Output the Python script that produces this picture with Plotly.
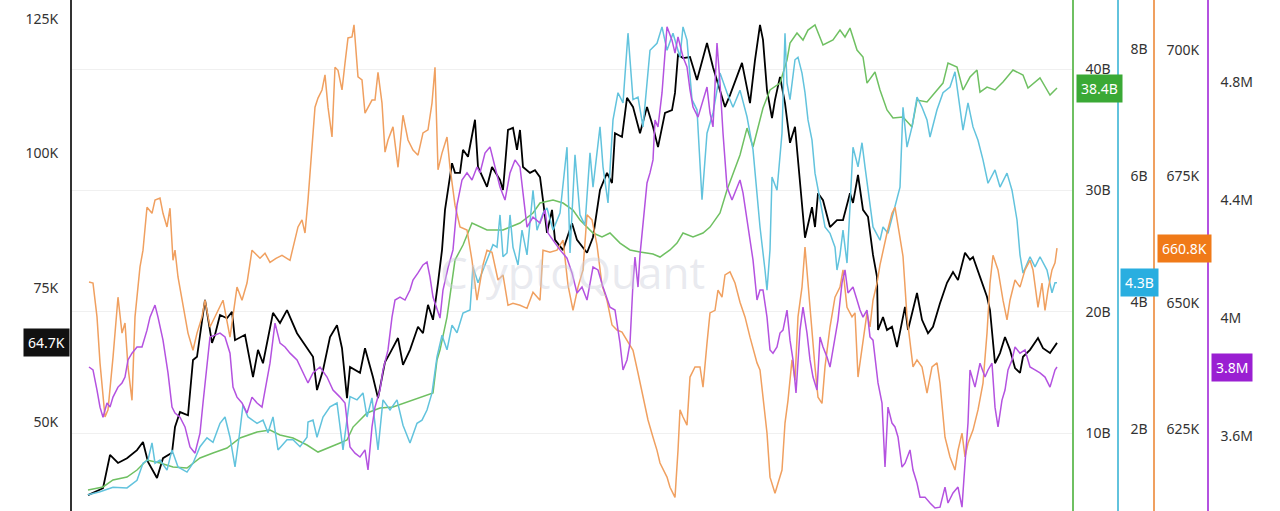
import plotly.graph_objects as go
import numpy as np

# ---------------- data (day offsets, values) ----------------
btc_day = [0,15,22,30,39,49,55,60,69,75,
           84,87,92,100,105,109,117,124,127,132,
           139,144,147,157,165,170,175,185,192,199,
           209,219,225,229,235,242,249,254,259,262,
           272,277,285,290,297,302,310,315,322,330,
           335,340,345,350,354,357,364,367,372,375,
           380,387,390,399,404,412,415,420,425,429,
           432,435,442,447,452,455,459,464,467,475,
           484,489,494,499,505,512,519,524,527,534,
           539,545,552,559,565,570,577,584,587,590,
           595,602,609,619,625,632,637,642,654,662,
           667,672,675,679,684,687,692,697,702,707,
           712,717,724,727,730,735,742,749,755,762,
           765,770,775,780,785,789,790,795,799,804,
           809,812,817,820,825,829,834,840,845,852,
           859,865,870,877,882,885,892,899,902,907,
           912,917,922,927,932,935,942,950,955,962,
           969]
btc_price_k = [36.3,37.6,43.8,42.3,43.2,44.7,46.2,42.5,39.5,43.2,
               44.2,49.0,51.8,51.2,61.5,62.1,72.7,64.7,66.2,69.9,
               69.3,70.5,65.2,66.2,58.3,63.4,60.9,70.3,68.4,70.8,
               66.5,63.9,62.1,55.9,59.6,65.8,68.0,63.7,54.4,60.2,
               59.1,63.7,58.3,54.4,61.1,62.8,65.6,60.6,63.4,67.7,
               66.5,71.8,69.0,75.9,82.0,89.5,98.2,96.4,96.4,100.7,
               99.4,106.3,97.5,93.8,97.5,95.1,93.2,104.4,104.8,100.7,
               104.4,97.5,96.4,96.9,95.6,91.3,85.2,89.5,83.9,82.0,
               87.0,83.9,82.6,81.5,84.4,93.2,96.4,94.5,103.8,103.1,
               110.4,108.7,103.8,108.7,105.0,101.2,107.6,108.1,111.3,118.4,
               117.8,118.0,113.7,120.6,116.1,111.8,108.7,110.9,116.9,109.4,
               117.4,124.0,121.2,111.8,106.6,110.0,114.3,109.4,102.0,105.0,
               95.1,84.3,90.0,86.3,92.6,91.3,86.3,87.6,87.6,92.6,
               90.8,96.0,89.5,88.2,81.1,77.0,67.1,69.5,67.1,67.7,
               63.9,66.5,71.4,67.1,71.2,74.0,69.0,66.5,67.7,72.1,
               75.9,77.9,76.4,81.5,80.2,80.7,77.0,73.3,70.8,60.9,
               62.8,65.8,63.4,60.0,59.1,62.1,63.4,65.6,63.7,62.8,
               64.7]

green_day = [0,15,25,39,49,59,72,85,99,112,
             125,139,152,169,182,192,205,219,230,239,
             252,259,265,279,292,305,319,332,345,349,
             352,359,367,375,384,399,415,432,445,452,
             465,475,485,492,499,505,514,522,532,542,
             552,565,572,582,589,595,605,615,622,632,
             639,645,652,659,665,675,682,692,699,702,
             709,715,720,727,735,745,752,757,762,769,
             775,779,787,792,799,805,815,824,829,839,
             849,855,860,869,875,882,889,892,899,907,
             915,925,935,940,952,959,962,969]
green_b = [5.30,5.55,6.13,6.37,6.95,7.77,7.53,7.20,7.11,7.94,
           8.35,8.76,9.59,10.08,10.25,9.84,9.59,9.01,8.43,8.76,
           9.18,9.42,10.49,11.65,12.06,12.14,12.56,12.97,13.30,16.02,
           16.84,19.56,24.26,25.50,27.31,26.74,26.74,27.31,28.14,28.96,
           29.21,28.96,28.38,27.56,26.98,26.49,26.16,26.49,25.66,25.09,
           24.92,24.76,24.51,25.09,25.66,26.49,26.16,26.49,26.98,28.14,
           30.03,31.43,32.92,35.14,33.58,36.79,38.28,38.85,40.75,42.15,
           42.98,42.40,43.22,43.64,41.99,42.40,43.22,42.65,43.39,41.57,
           41.00,38.85,39.76,38.28,36.63,35.97,36.05,35.23,37.45,37.29,
           38.28,38.85,40.50,40.17,38.28,39.35,39.93,38.11,38.52,38.28,
           38.94,39.93,39.51,38.44,39.27,38.28,37.86,38.44]

cyan_day = [0,12,25,39,49,55,60,64,67,72,
            79,84,90,99,105,112,119,125,132,137,
            142,147,152,155,160,169,175,180,185,190,
            199,205,212,219,220,225,229,235,242,249,
            255,262,269,275,279,284,290,295,302,309,
            315,322,329,334,339,344,349,354,359,364,
            369,375,382,385,390,395,399,405,409,412,
            415,419,422,425,430,434,439,445,449,455,
            459,465,472,479,482,487,492,497,502,505,
            512,515,520,525,530,535,540,545,550,555,
            562,569,574,579,585,592,595,599,604,609,
            614,619,625,632,639,645,652,659,665,672,
            677,679,682,684,689,694,697,699,702,707,
            710,714,717,720,724,727,732,737,742,747,
            749,752,755,759,762,765,770,774,777,782,
            785,792,795,800,805,809,812,815,819,824,
            829,834,839,842,849,855,862,867,872,875,
            880,885,890,895,900,907,912,919,924,929,
            932,935,942,947,952,959,964,967,969]
cyan_b = [0.96,1.01,1.08,1.07,1.19,1.46,1.51,1.78,1.46,1.51,
          1.35,1.67,1.40,1.32,1.46,1.72,1.86,1.79,2.09,2.19,
          1.87,1.40,1.98,2.38,2.19,2.09,2.14,1.94,2.19,1.67,
          1.83,1.83,1.72,1.87,2.11,2.14,1.87,2.19,2.35,2.41,
          1.67,2.51,2.46,2.57,2.19,2.49,1.67,2.46,2.30,2.46,
          2.06,1.78,2.09,2.14,2.30,2.57,3.14,3.48,3.25,3.64,
          3.52,3.83,3.88,4.56,4.31,4.51,4.64,4.91,4.87,5.38,
          4.72,4.78,5.38,4.87,4.59,5.14,4.75,5.77,5.14,5.41,
          5.49,5.14,5.41,6.45,4.78,6.33,5.38,5.22,6.36,5.82,
          6.77,6.14,5.57,6.88,7.31,7.15,8.25,7.20,7.24,6.77,
          7.98,8.09,8.35,7.98,8.25,7.87,8.35,8.14,7.20,7.04,
          5.62,6.67,6.99,7.62,7.31,7.08,7.35,6.93,6.41,5.19,
          4.51,4.19,4.83,5.98,5.77,6.67,8.25,7.46,7.20,7.83,
          7.87,7.62,7.31,6.88,6.56,6.04,5.62,5.19,5.09,4.87,
          4.51,4.75,5.14,4.62,5.51,6.45,6.14,6.52,6.14,5.51,
          5.19,4.98,5.19,5.09,5.41,5.62,5.82,7.08,6.45,6.77,
          7.24,7.08,6.88,6.61,7.04,7.31,7.40,7.64,7.04,6.72,
          7.15,6.77,6.56,6.25,5.88,6.09,5.82,6.04,5.77,5.30,
          4.75,4.46,4.72,4.56,4.72,4.51,4.15,4.31,4.31]

orange_day = [1,5,9,12,17,20,25,30,34,37,
              40,44,47,52,55,59,64,67,72,75,
              79,82,85,87,90,95,100,105,109,114,
              117,122,129,135,142,149,154,159,164,172,
              177,182,188,194,202,205,210,214,217,220,
              224,227,230,234,237,240,244,247,250,254,
              257,260,264,266,270,274,277,280,284,287,
              290,294,297,300,305,310,315,320,325,330,
              335,340,344,347,350,354,359,362,367,372,
              379,384,389,395,399,404,410,415,420,425,
              432,439,445,452,455,462,469,475,480,485,
              490,495,499,504,509,514,519,524,529,534,
              539,545,550,555,560,565,569,572,579,582,
              587,590,592,595,599,602,607,612,615,619,
              622,627,630,634,637,642,647,652,657,662,
              669,672,675,679,682,687,690,694,697,700,
              704,707,710,714,717,720,724,727,730,734,
              737,742,747,752,755,759,764,767,770,775,
              779,782,785,789,792,799,804,807,810,815,
              819,822,825,829,834,839,844,849,852,857,
              862,867,870,874,877,880,885,890,895,899,
              902,905,910,915,919,922,927,932,937,942,
              945,950,954,957,960,964,967,969]
orange_k = [654.1,653.9,647.2,638.1,627.4,628.8,639.2,651.1,644.0,646.0,
            637.3,630.7,647.2,657.1,660.4,668.9,667.7,670.3,670.7,667.7,
            665.0,668.7,658.4,660.4,655.1,649.1,644.0,640.6,644.0,647.2,
            650.5,645.2,648.0,650.5,643.2,653.1,650.5,653.9,660.4,658.8,
            659.8,658.0,658.8,659.4,658.4,660.8,665.0,666.4,663.8,670.3,
            681.6,688.7,690.5,692.1,695.1,688.7,682.8,696.6,696.0,692.1,
            697.4,702.4,702.6,705.0,694.7,694.1,687.5,688.7,690.1,690.1,
            695.6,689.5,679.8,682.2,684.8,676.8,687.1,682.2,680.2,679.2,
            683.6,684.2,689.5,696.6,676.3,679.6,682.8,676.8,669.3,665.0,
            664.4,658.4,650.5,657.5,660.4,660.0,654.5,655.5,649.5,649.9,
            649.5,648.9,652.1,650.5,660.4,660.0,660.4,662.4,653.5,648.5,
            653.1,656.5,667.4,666.4,661.4,653.5,650.5,645.6,644.6,644.2,
            642.6,640.6,636.1,631.3,626.8,623.4,620.8,618.3,615.5,613.5,
            611.5,620.8,628.8,627.4,625.8,635.3,637.3,637.3,633.3,642.0,
            648.0,648.5,652.5,651.1,655.5,656.1,653.9,650.1,647.2,643.2,
            638.1,636.7,630.7,624.2,615.5,612.3,614.3,616.9,626.2,630.7,
            638.7,634.7,647.2,653.1,661.0,653.9,643.2,637.3,631.3,630.1,
            637.3,645.2,651.1,653.1,656.5,649.1,647.2,648.0,635.3,642.6,
            648.0,645.2,650.5,653.9,657.5,663.8,667.7,668.9,665.0,659.2,
            647.2,642.0,637.3,638.7,637.3,632.1,637.3,638.1,634.1,623.4,
            619.5,616.9,620.8,624.2,619.5,622.2,624.8,628.8,634.1,644.0,
            653.9,659.4,656.5,650.5,646.6,650.5,654.5,653.1,656.5,658.4,
            656.5,649.1,653.9,648.5,652.5,656.5,657.9,660.8]

purple_day = [1,5,9,12,15,19,22,25,30,34,
              37,40,44,49,54,59,62,67,70,75,
              80,84,87,92,97,102,107,112,115,119,
              122,127,132,137,142,145,149,154,159,164,
              169,174,177,182,187,192,197,202,209,215,
              220,225,232,239,245,252,257,262,267,272,
              277,280,284,287,292,295,300,304,307,312,
              317,322,325,330,335,339,342,345,349,352,
              355,360,365,369,374,379,384,389,392,397,
              402,407,412,417,422,427,432,435,439,445,
              452,457,460,465,472,479,484,489,494,499,
              505,510,515,522,527,532,535,539,542,545,
              547,550,552,559,562,565,567,570,574,579,
              584,587,590,595,599,602,605,610,615,619,
              622,625,629,632,635,639,644,649,652,655,
              660,665,669,672,675,679,682,685,689,692,
              695,699,702,705,708,712,715,719,722,725,
              729,732,735,739,742,745,750,754,757,760,
              765,769,772,775,779,782,785,790,794,797,
              800,804,807,810,814,817,822,825,829,832,
              837,842,847,852,857,860,865,870,874,877,
              880,882,887,892,897,900,904,907,910,914,
              917,920,924,927,932,937,942,947,952,957,
              962,967,969]
purple_m = [3.834,3.824,3.756,3.698,3.664,3.712,3.698,3.732,3.766,3.780,
            3.800,3.858,3.881,3.902,3.902,3.959,4.003,4.044,4.003,3.925,
            3.814,3.698,3.678,3.664,3.631,3.563,3.542,3.610,3.712,3.847,
            3.936,3.942,3.949,3.936,3.881,3.766,3.732,3.712,3.678,3.732,
            3.712,3.698,3.756,3.847,3.983,3.915,3.902,3.881,3.858,3.814,
            3.780,3.814,3.834,3.800,3.756,3.732,3.712,3.563,3.542,3.529,
            3.553,3.485,3.631,3.698,3.756,3.824,3.892,4.003,4.061,4.071,
            4.061,4.095,4.129,4.153,4.180,4.190,4.139,4.071,4.027,4.000,
            4.095,4.170,4.231,4.383,4.468,4.492,4.468,4.512,4.492,4.559,
            4.580,4.512,4.444,4.400,4.492,4.536,4.512,4.424,4.308,4.342,
            4.322,4.366,4.288,4.264,4.231,4.203,4.153,4.085,4.105,4.061,
            4.173,4.163,4.105,4.037,4.027,3.915,3.824,3.858,3.915,4.119,
            4.207,4.105,4.214,4.458,4.492,4.536,4.671,4.648,4.763,4.987,
            4.942,4.898,4.953,4.885,4.851,4.773,4.715,4.681,4.739,4.783,
            4.695,4.648,4.932,4.797,4.627,4.444,4.400,4.444,4.468,4.424,
            4.308,4.197,4.061,4.095,4.095,4.003,3.892,3.881,3.902,3.949,
            3.959,4.027,3.925,3.858,3.746,3.959,4.037,3.949,3.858,3.800,
            3.756,3.936,3.902,3.868,3.834,3.892,3.993,4.119,4.163,4.085,
            4.105,4.061,4.027,4.003,4.027,3.936,3.925,3.780,3.712,3.495,
            3.698,3.644,3.631,3.597,3.495,3.508,3.553,3.485,3.441,3.393,
            3.393,3.373,3.356,3.359,3.427,3.373,3.407,3.427,3.359,3.508,
            3.644,3.824,3.766,3.847,3.800,3.824,3.847,3.698,3.631,3.722,
            3.756,3.824,3.858,3.902,3.881,3.892,3.834,3.824,3.814,3.800,
            3.766,3.824,3.834]

left_ticks = [50e3, 75e3, 100e3, 125e3]
left_labels = ["50K", "75K", "100K", "125K"]
green_ticks = [10e9, 20e9, 30e9, 40e9]
green_labels = ["10B", "20B", "30B", "40B"]
cyan_ticks = [2e9, 4e9, 6e9, 8e9]
cyan_labels = ["2B", "4B", "6B", "8B"]
orange_ticks = [625e3, 650e3, 675e3, 700e3]
orange_labels = ["625K", "650K", "675K", "700K"]
purple_ticks = [3.6e6, 4.0e6, 4.4e6, 4.8e6]
purple_labels = ["3.6M", "4M", "4.4M", "4.8M"]

# ---------------- styling ----------------
W, H = 1280, 511
ML = 72
PW = W - ML


def px(x):
    return (x - ML) / PW


C_BLACK = "#000000"
C_GREEN = "#6fc062"
C_CYAN = "#62c3dd"
C_ORANGE = "#f0a060"
C_PURPLE = "#b452e0"

FONT = "Noto Sans"
TICKFONT = dict(family=FONT, size=14, color="#333333")

fig = go.Figure()

series = [
    (green_day, np.array(green_b) * 1e9, C_GREEN, "y2", 1.5),
    (cyan_day, np.array(cyan_b) * 1e9, C_CYAN, "y3", 1.5),
    (orange_day, np.array(orange_k) * 1e3, C_ORANGE, "y4", 1.5),
    (purple_day, np.array(purple_m) * 1e6, C_PURPLE, "y5", 1.5),
    (btc_day, np.array(btc_price_k) * 1e3, C_BLACK, "y", 1.8),
]
for d, v, c, ya, w in series:
    fig.add_trace(go.Scatter(x=d, y=v, mode="lines", yaxis=ya,
                             line=dict(color=c, width=w), showlegend=False,
                             hoverinfo="skip"))


def right_axis(pos, rng, tv, tt, color, grid=False):
    return dict(overlaying="y", anchor="free", position=pos, side="right",
                range=rng, tickvals=tv, ticktext=tt, showline=True,
                linecolor=color, linewidth=1.5, ticks="outside", ticklen=9,
                tickcolor="rgba(0,0,0,0)", showgrid=grid, gridcolor="#f0f0f0",
                gridwidth=1, zeroline=False, tickfont=TICKFONT, fixedrange=True)


fig.update_layout(
    width=W, height=H,
    margin=dict(l=ML, r=0, t=0, b=0),
    paper_bgcolor="white", plot_bgcolor="white",
    xaxis=dict(domain=[0, px(1072)], range=[-16, 984], visible=False),
    yaxis=dict(range=[33350, 128630], tickvals=left_ticks, ticktext=left_labels,
               showline=True, linecolor="#333333", linewidth=2, ticks="outside",
               ticklen=9, tickcolor="rgba(0,0,0,0)", showgrid=False,
               zeroline=False, tickfont=TICKFONT),
    yaxis2=right_axis(px(1073), [3.57e9, 45.70e9], green_ticks, green_labels, C_GREEN, grid=True),
    yaxis3=right_axis(px(1118), [0.705e9, 8.774e9], cyan_ticks, cyan_labels, C_CYAN),
    yaxis4=right_axis(px(1154), [608.8e3, 709.9e3], orange_ticks, orange_labels, C_ORANGE),
    yaxis5=right_axis(px(1208), [3.346e6, 5.078e6], purple_ticks, purple_labels, C_PURPLE),
)

# watermark
fig.add_annotation(text="CryptoQuant", xref="paper", yref="paper",
                   x=px(572), y=1 - 272 / H, showarrow=False,
                   font=dict(family="Open Sans", size=44, color="rgba(205,208,220,0.45)"))

# last-value badges
badges = [
    (btc_price_k[-1] * 1e3, "y", f"{btc_price_k[-1]:.1f}K", "#111111", px(70), "right"),
    (green_b[-1] * 1e9, "y2", f"{green_b[-1]:.1f}B", "#3aa935", px(1076), "left"),
    (cyan_b[-1] * 1e9, "y3", f"{cyan_b[-1]:.1f}B", "#29aee0", px(1120), "left"),
    (orange_k[-1] * 1e3, "y4", f"{orange_k[-1]:.1f}K", "#f07a18", px(1157), "left"),
    (purple_m[-1] * 1e6, "y5", f"{purple_m[-1]:.1f}M", "#9a1fd2", px(1211), "left"),
]
for val, ya, txt, bg, xp, xa in badges:
    fig.add_annotation(text=txt, xref="paper", yref=ya, x=xp, y=val,
                       xanchor=xa, yanchor="middle", showarrow=False,
                       bgcolor=bg, borderpad=4,
                       font=dict(family=FONT, size=14, color="white"))

fig.write_html("out.html", config={"displayModeBar": False},
               post_script="document.body.style.margin='0';document.body.style.overflow='hidden';")
